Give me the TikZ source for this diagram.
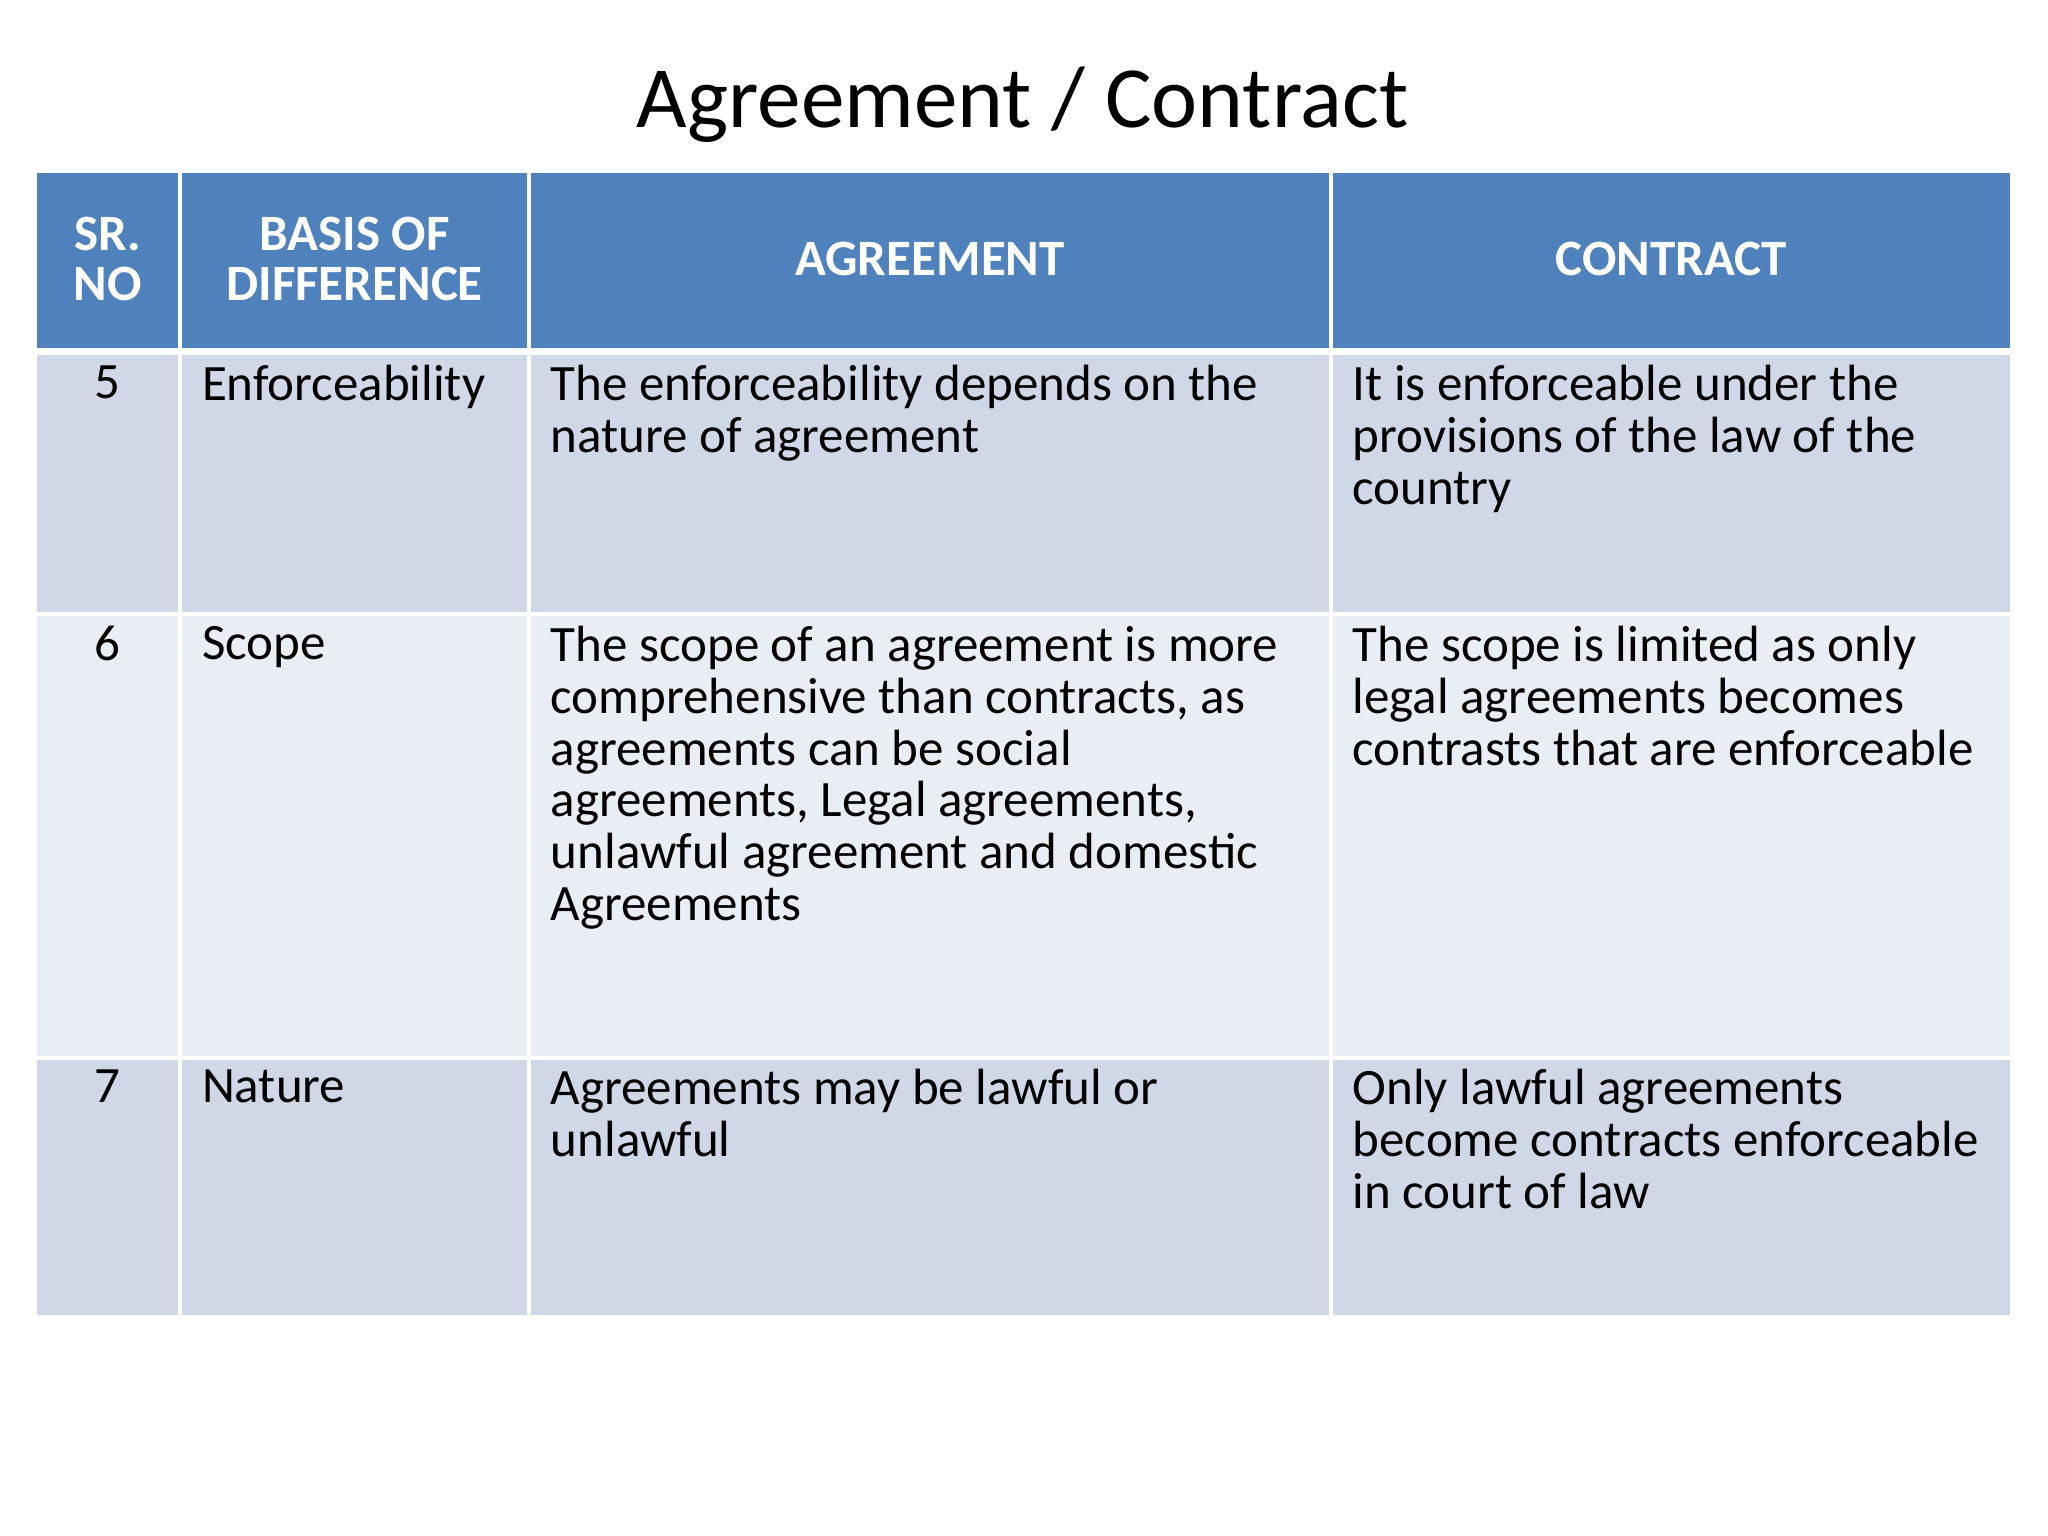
\documentclass[tikz,border=0pt]{standalone}
\usepackage{fontspec}
\setmainfont{Carlito}
\definecolor{hdr}{HTML}{4F81BD}
\definecolor{rowa}{HTML}{D0D8E8}
\definecolor{rowb}{HTML}{E9EDF4}
\begin{document}
\begin{tikzpicture}[x=0.01cm,y=-0.01cm,
  cell/.style={draw=white,line width=0.8pt},
  body/.style={anchor=north west,inner sep=0pt,align=left,font=\fontsize{11.1}{11.25}\selectfont},
  head/.style={inner sep=0pt,align=center,text=white,font=\fontsize{11.1}{10.9}\selectfont\bfseries}]
\useasboundingbox (0,0) rectangle (1568,1176);
\node (title) at (783,80) {\fontsize{19}{23}\selectfont Agreement / Contract};
% backgrounds
\foreach \a/\b/\c in {131/269/hdr,269/470/rowa,470/810/rowb,810/1008/rowa}{
  \foreach \l/\r in {27/138,138/405,405/1019,1019/1540}{
    \fill[\c] (\l,\a) rectangle (\r,\b);
    \draw[cell] (\l,\a) rectangle (\r,\b);
  }}
\draw[white,line width=1.6pt] (27,269) -- (1540,269);
% header
\node[head] (h1) at (82.5,198) {SR.\\NO};
\node[head] (h2) at (271.5,198) {BASIS OF\\DIFFERENCE};
\node[head] (h3) at (712,198) {AGREEMENT};
\node[head] (h4) at (1279.5,198) {CONTRACT};
% rows
\node[body,anchor=north] (n5) at (82.5,279) {5};
\node[body] (b5) at (154,279) {Enforceability};
\node[body] (a5) at (421,279) {The enforceability depends on the\\nature of agreement};
\node[body] (c5) at (1035,279) {It is enforceable under the\\provisions of the law of the\\country};
\node[body,anchor=north] (n6) at (82.5,479) {6};
\node[body] (b6) at (154,479) {Scope};
\node[body] (a6) at (421,479) {The scope of an agreement is more\\comprehensive than contracts, as\\agreements can be social\\agreements, Legal agreements,\\unlawful agreement and domestic\\Agreements};
\node[body] (c6) at (1035,479) {The scope is limited as only\\legal agreements becomes\\contrasts that are enforceable};
\node[body,anchor=north] (n7) at (82.5,818) {7};
\node[body] (b7) at (154,818) {Nature};
\node[body] (a7) at (421,818) {Agreements may be lawful or\\unlawful};
\node[body] (c7) at (1035,818) {Only lawful agreements\\become contracts enforceable\\in court of law};
\end{tikzpicture}
\end{document}
